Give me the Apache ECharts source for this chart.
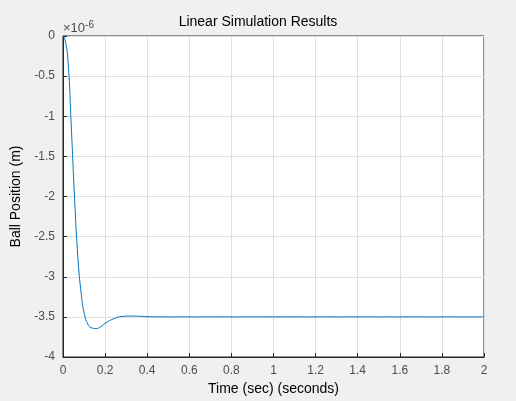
<!DOCTYPE html>
<html>
<head>
<meta charset="utf-8">
<script src="https://cdn.jsdelivr.net/npm/echarts@6/dist/echarts.min.js"></script>
<style>html,body{margin:0;padding:0;background:#f0f0f0;}#main{width:516px;height:401px;}</style>
</head>
<body>
<div id="main"></div>
<script>
// ball position response, values in units of 1e-6 m
var timeSec = [0, 0.01, 0.024, 0.039, 0.055, 0.071, 0.087, 0.102, 0.118, 0.134, 0.158, 0.18, 0.2, 0.244, 0.28, 0.32, 0.36, 0.4, 0.5, 0.7, 1.0, 1.5, 2.0];
var position = [0, -0.05, -0.32, -1.11, -2.02, -2.77, -3.22, -3.47, -3.59, -3.635, -3.645, -3.62, -3.58, -3.52, -3.495, -3.49, -3.492, -3.497, -3.5, -3.5, -3.5, -3.5, -3.5];

var chart = echarts.init(document.getElementById('main'));
var font = 'Liberation Sans, Arial, sans-serif';
var axisCommon = {
  axisLine: { show: true, onZero: false, lineStyle: { color: '#262626', width: 1 } },
  axisTick: { show: true, inside: true, length: 4, lineStyle: { color: '#262626' } },
  axisLabel: { color: '#4d4d4d', fontSize: 12, fontFamily: font },
  splitLine: { show: true, lineStyle: { color: '#dfdfdf', width: 1 } }
};
chart.setOption({
  backgroundColor: '#f0f0f0',
  animation: false,
  title: {
    text: 'Linear Simulation Results', left: 'center', top: 10,
    textStyle: { fontSize: 14, fontWeight: 'normal', color: '#000', fontFamily: font }
  },
  grid: { left: 63, right: 32, top: 36, bottom: 44, show: true, backgroundColor: '#fff', borderColor: '#262626', borderWidth: 1 },
  xAxis: Object.assign({
    type: 'value', min: 0, max: 2, interval: 0.2,
    name: 'Time (sec) (seconds)', nameLocation: 'middle', nameGap: 23,
    nameTextStyle: { fontSize: 14, color: '#000', fontFamily: font }
  }, axisCommon),
  yAxis: Object.assign({
    type: 'value', min: -4, max: 0, interval: 0.5,
    name: 'Ball Position (m)', nameLocation: 'middle', nameGap: 36,
    nameTextStyle: { fontSize: 14, color: '#000', fontFamily: font }
  }, axisCommon),
  graphic: [{
    type: 'text', left: 63, top: 20,
    style: {
      text: '{a|×10}{b|-6}',
      rich: {
        a: { fontSize: 13, fill: '#4d4d4d', fontFamily: font },
        b: { fontSize: 10, fill: '#4d4d4d', fontFamily: font, verticalAlign: 'top', padding: [0, 0, 6, 0] }
      }
    }
  }],
  series: [{
    type: 'line', smooth: true, symbol: 'none',
    lineStyle: { color: '#0072bd', width: 1 },
    data: timeSec.map(function (t, i) { return [t, position[i]]; })
  }]
});
</script>
</body>
</html>
